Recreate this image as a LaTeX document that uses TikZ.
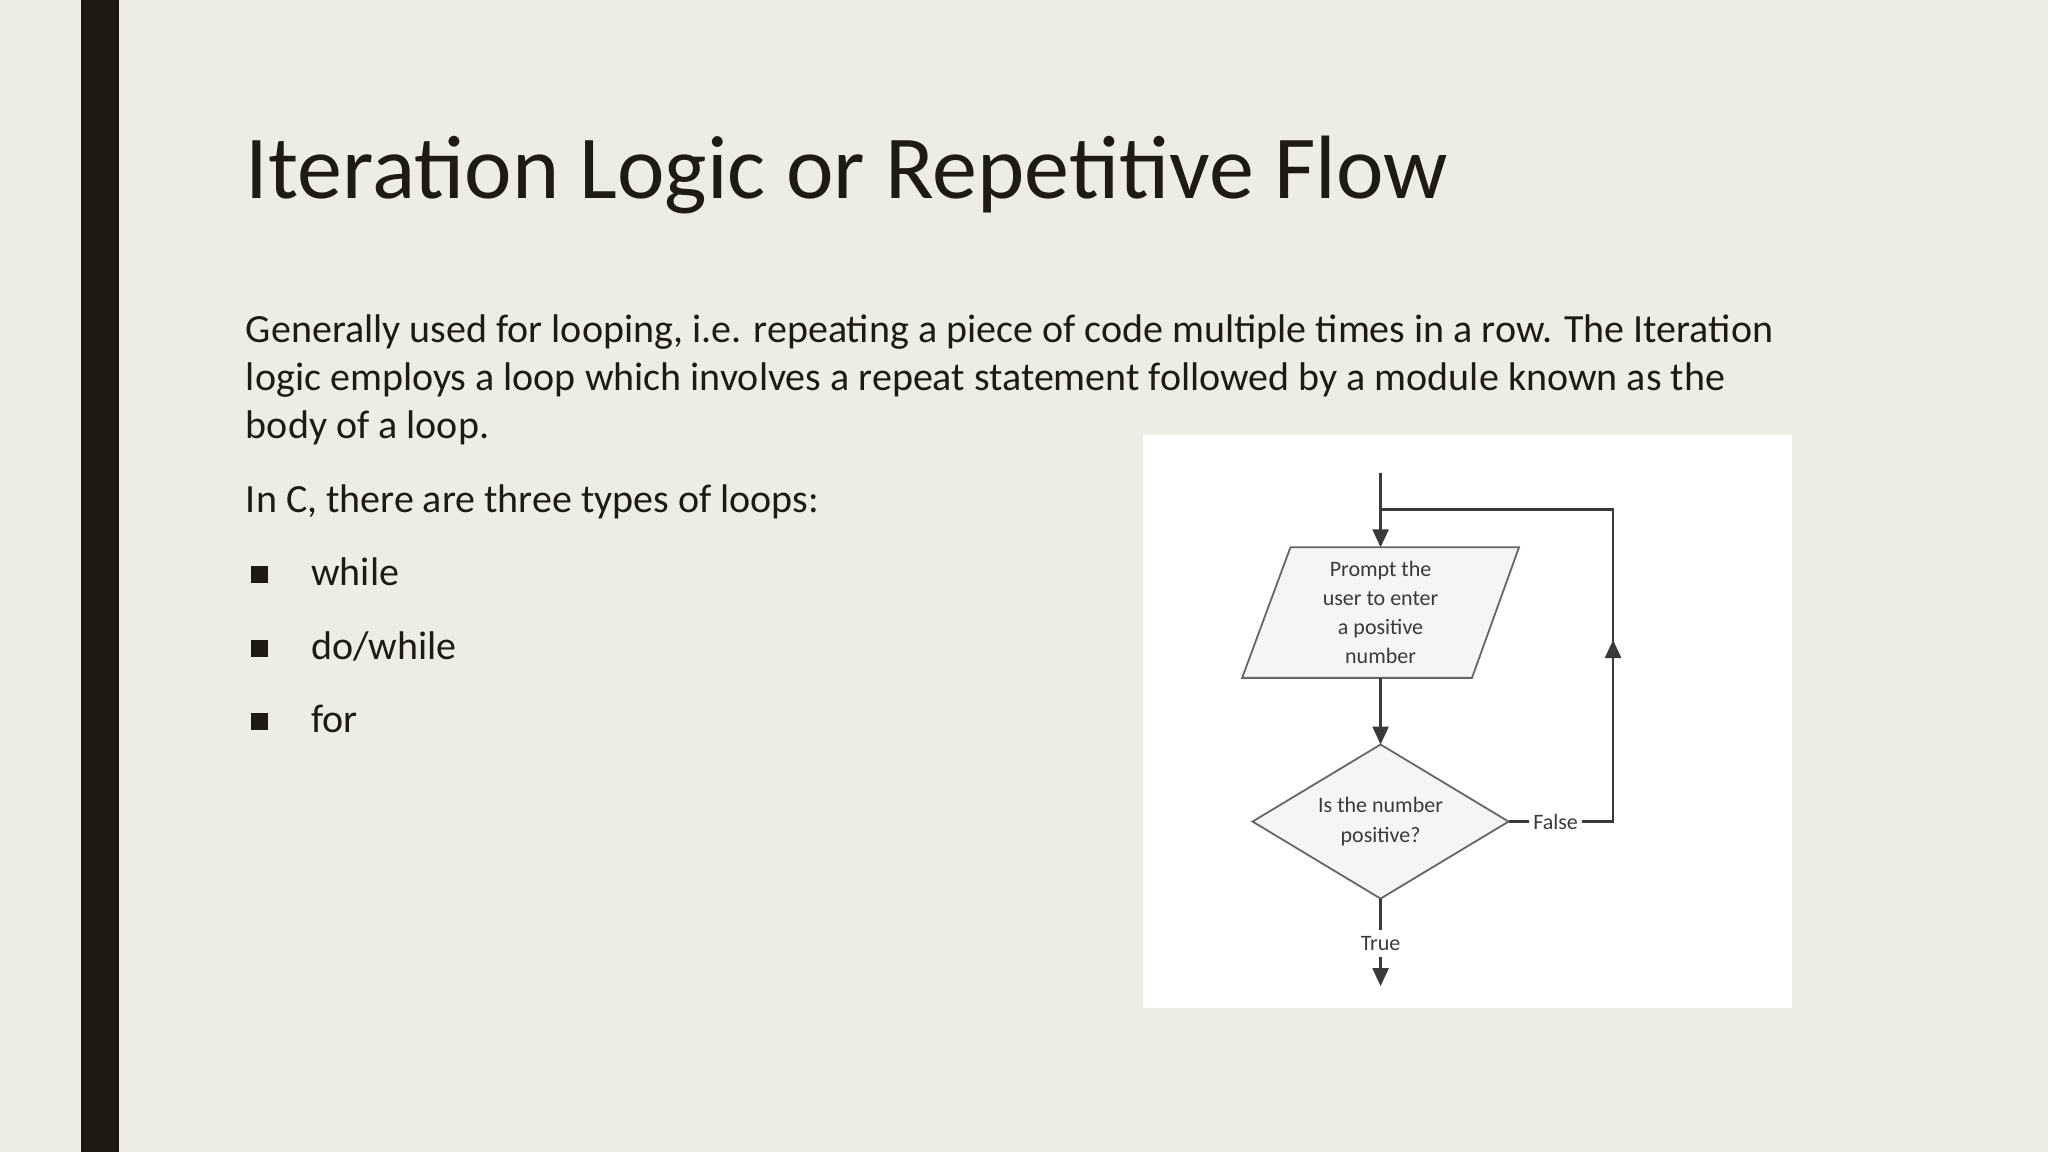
\documentclass[tikz,border=0pt]{standalone}
\usepackage{fontspec}
\setmainfont{Carlito}
\usetikzlibrary{shapes.geometric,arrows.meta,decorations.markings}
\definecolor{bg}{HTML}{EEEDE4}
\definecolor{bar}{HTML}{1E1C12}
\definecolor{ink}{HTML}{1E1C12}
\definecolor{fc}{HTML}{3A3A3A}
\begin{document}
\begin{tikzpicture}[x=0.6531pt,y=-0.6531pt,
  body/.style={anchor=base west,inner sep=0,font=\fontsize{20}{24}\selectfont,text=ink},
  fl/.style={draw=fc,line width=1.3pt},
  arr/.style={fl,-{Triangle[length=9pt,width=8pt]}},
  lab/.style={font=\fontsize{11}{13}\selectfont,text=fc,inner sep=0}]
\useasboundingbox (0,0) rectangle (1568,882);
\fill[bg] (0,0) rectangle (1568,882);
\fill[bar] (62,0) rectangle (91,882);
\node[anchor=base west,inner sep=0,font=\fontsize{45}{54}\selectfont,text=ink] (title) at (188,152) {Iteration Logic or Repetitive Flow};
\node[body] (l1) at (188,262) {Generally used for looping, i.e. repeating a piece of code multiple times in a row. The Iteration};
\node[body] (l2) at (188,299) {logic employs a loop which involves a repeat statement followed by a module known as the};
\node[body] (l3) at (188,336) {body of a loop.};
\node[body] (l4) at (188,392) {In C, there are three types of loops:};
\foreach \t/\y/\n in {while/448/b1,do\slash while/505/b2,for/561/b3}{
  \fill[ink] (192,\y-15) rectangle (205,\y-2);
  \node[body] (\n) at (238,\y) {\t};
}
\fill[white] (875,333) rectangle (1372,772);
% parallelogram
\draw[fl,draw=gray!80!black,fill=gray!8,line width=0.9pt] (988,419) -- (1163,419) -- (1127,519) -- (951,519) -- cycle;
\node[lab,align=center,font=\fontsize{11}{14.6}\selectfont] (p) at (1057,469) {Prompt the\\user to enter\\a positive\\number};
\draw[fl,draw=gray!80!black,fill=gray!8,line width=0.9pt] (1057,570) -- (1155,629) -- (1057,688) -- (959,629) -- cycle;
\node[lab,align=center,font=\fontsize{11}{14.6}\selectfont] (d) at (1057,629) {Is the number\\positive?};
\coordinate (top) at (1057,362);
\coordinate (ptop) at (1057,419);
\coordinate (pbot) at (1057,519);
\coordinate (dtop) at (1057,570);
\coordinate (dbot) at (1057,688);
\coordinate (dr) at (1155,629);
\coordinate (c1) at (1235,629);
\coordinate (c2) at (1235,390);
\coordinate (j) at (1057,390);
\coordinate (tend) at (1057,755);
\draw[arr] (top) -- (ptop);
\draw[arr] (pbot) -- (dtop);
\node[lab,fill=white,inner xsep=2pt] (f) at (1191,629) {False};
\draw[fl] (dr) -- (f.west);
\draw[fl] (f.east) -- (c1) -- (c2) -- (j);
\draw[arr] (c1) -- (1235,490);
\draw[fl] (dbot) -- (1057,712);
\node[lab] (t) at (1057,722) {True};
\draw[arr] (1057,733) -- (tend);
\end{tikzpicture}
\end{document}
